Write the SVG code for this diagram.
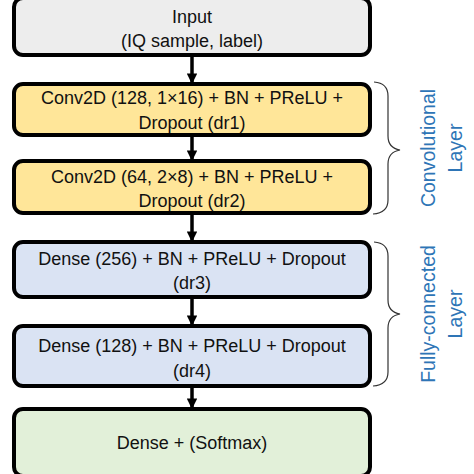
<svg xmlns="http://www.w3.org/2000/svg" width="474" height="474" viewBox="0 0 474 474">
<style>
.box{stroke:#000;stroke-width:4}
.t{font-family:"Liberation Sans",Arial,sans-serif;font-size:18px;fill:#111;text-anchor:middle}
.side{font-family:"Liberation Sans",Arial,sans-serif;font-size:19.5px;fill:#2E75B6;text-anchor:middle}
.brace{fill:none;stroke:#333;stroke-width:1.2}
.arrow{stroke:#000;stroke-width:3.5;marker-end:url(#ah)}
</style>
<defs>
<marker id="ah" viewBox="0 0 10 10" refX="8" refY="5" markerWidth="3.2" markerHeight="3" orient="auto" markerUnits="strokeWidth">
<path d="M0,0 L10,5 L0,10 z" fill="#000"/>
</marker>
</defs>
<rect width="474" height="474" fill="#fff"/>
<g id="connectors">
<line class="arrow" x1="192" y1="56" x2="192" y2="82"/>
<line class="arrow" x1="192" y1="136" x2="192" y2="159"/>
<line class="arrow" x1="192" y1="214" x2="192" y2="240"/>
<line class="arrow" x1="192" y1="298" x2="192" y2="324"/>
<line class="arrow" x1="192" y1="387" x2="192" y2="407"/>
</g>
<g id="input">
<rect class="box" x="14" y="-2" width="356" height="57" rx="9" fill="#EDEDED"/>
<text class="t" x="192" y="23">Input</text>
<text class="t" x="192" y="47">(IQ sample, label)</text>
</g>
<g id="conv1">
<rect class="box" x="14" y="84" width="356" height="51" rx="9" fill="#FFE699"/>
<text class="t" x="192" y="104">Conv2D (128, 1×16) + BN + PReLU +</text>
<text class="t" x="192" y="129">Dropout (dr1)</text>
</g>
<g id="conv2">
<rect class="box" x="14" y="161" width="356" height="52" rx="9" fill="#FFE699"/>
<text class="t" x="192" y="183">Conv2D (64, 2×8) + BN + PReLU +</text>
<text class="t" x="192" y="207">Dropout (dr2)</text>
</g>
<g id="dense1">
<rect class="box" x="14" y="242" width="356" height="55" rx="9" fill="#DAE3F3"/>
<text class="t" x="192" y="265">Dense (256) + BN + PReLU + Dropout</text>
<text class="t" x="192" y="289">(dr3)</text>
</g>
<g id="dense2">
<rect class="box" x="14" y="326" width="356" height="60" rx="9" fill="#DAE3F3"/>
<text class="t" x="192" y="352">Dense (128) + BN +  PReLU + Dropout</text>
<text class="t" x="192" y="377">(dr4)</text>
</g>
<g id="output">
<rect class="box" x="14" y="409" width="356" height="67" rx="9" fill="#E2F0D9"/>
<text class="t" x="192" y="449">Dense + (Softmax)</text>
</g>
<g id="conv-brace">
<path class="brace" d="M374,82 Q388,83 388,96 L388,136 Q388,148 400,150 Q388,152 388,164 L388,200 Q388,213 373,214"/>
<text class="side" transform="translate(428,148) rotate(-90)" y="7">Convolutional</text>
<text class="side" transform="translate(455,148) rotate(-90)" y="7">Layer</text>
</g>
<g id="fc-brace">
<path class="brace" d="M374,242 Q388,243 388,256 L388,300 Q388,312 400,314 Q388,316 388,328 L388,372 Q388,385 373,386"/>
<text class="side" transform="translate(428,314) rotate(-90)" y="7">Fully-connected</text>
<text class="side" transform="translate(455,314) rotate(-90)" y="7">Layer</text>
</g>
</svg>
